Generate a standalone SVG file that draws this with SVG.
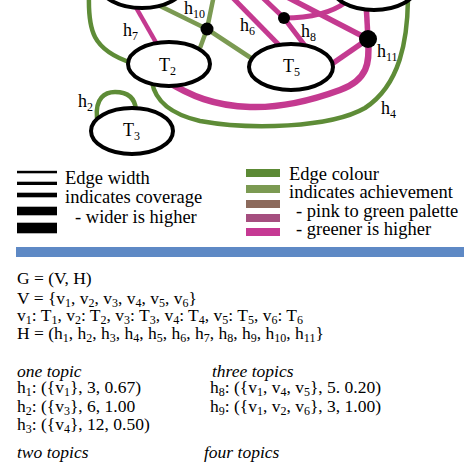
<svg xmlns="http://www.w3.org/2000/svg" width="474" height="474" viewBox="0 0 474 474" font-family="Liberation Serif, Times New Roman, serif">
<style>
text{font-family:"Liberation Serif","Times New Roman",serif;fill:#000}
.lb{font-size:18px}
.lg{font-size:18.5px}
.tx{font-size:17.5px}
.it{font-style:italic}
.s{font-size:12px}
.node{fill:#fff;stroke:#000;stroke-width:4}
.e{fill:none;stroke-linecap:butt;stroke-linejoin:round}
.g1{stroke:#5e8c37}
.g2{stroke:#7b9a52}
.pk{stroke:#c43a90}
.dot{fill:#000}
</style>
<rect width="474" height="474" fill="#fff"/>
<g id="connectors">
  <path class="e g1" stroke-width="4.5" d="M89,-5 C88,30 92,50 132,63"/>
  <path class="e pk" stroke-width="4.5" d="M134,4 L158,46"/>
  <path class="e g2" stroke-width="4.5" d="M158,5 L207,29 L254,60"/>
  <path class="e g2" stroke-width="4.5" d="M214,-5 L207,29 L200,48"/>
  <path class="e pk" stroke-width="5" d="M232,-3 L281,47"/>
  <path class="e pk" stroke-width="5" d="M262,-3 L284,18 L306,47"/>
  <path class="e pk" stroke-width="5" d="M284,18 C300,18 326,17 346,2"/>
  <path class="e pk" stroke-width="5.5" d="M287,-3 L368,39"/>
  <path class="e pk" stroke-width="5.5" d="M368,39 L366,2"/>
  <path class="e pk" stroke-width="5.5" d="M368,39 L326,68"/>
  <path class="e pk" stroke-width="6.5" d="M368,40 C370,62 368,80 340,90 C310,101 280,108 250,107 C215,106 190,96 165,80"/>
  <path class="e g1" stroke-width="4.5" d="M408,-5 C408,40 400,85 365,108 C330,128 250,130 200,121 C170,114 155,100 152,82"/>
  <path class="e g1" stroke-width="4.5" d="M97,118 C95,98 105,92 115,92 C128,92 135,98 136,110"/>
  <circle class="dot" cx="207" cy="29" r="6.5"/>
  <circle class="dot" cx="284" cy="18" r="6"/>
  <circle class="dot" cx="368" cy="39" r="9"/>
  <text class="lb" x="184" y="14">h<tspan class="s" dy="4">10</tspan></text>
  <text class="lb" x="123" y="36">h<tspan class="s" dy="4">7</tspan></text>
  <text class="lb" x="240" y="31">h<tspan class="s" dy="4">6</tspan></text>
  <text class="lb" x="301" y="37">h<tspan class="s" dy="4">8</tspan></text>
  <text class="lb" x="377" y="57">h<tspan class="s" dy="4">11</tspan></text>
  <text class="lb" x="381" y="114">h<tspan class="s" dy="4">4</tspan></text>
  <text class="lb" x="78" y="107">h<tspan class="s" dy="4">2</tspan></text>
</g>
<g id="T1"><ellipse class="node" cx="142" cy="-15" rx="42" ry="23"/></g>
<g id="T4"><ellipse class="node" cx="374" cy="-13" rx="42" ry="23"/></g>
<g id="T2"><ellipse class="node" cx="169" cy="64" rx="41" ry="22"/><text class="lb" x="159" y="71">T<tspan class="s" dy="4">2</tspan></text></g>
<g id="T3"><ellipse class="node" cx="132" cy="131" rx="41" ry="23"/><text class="lb" x="123" y="136">T<tspan class="s" dy="4">3</tspan></text></g>
<g id="T5"><ellipse class="node" cx="291" cy="67" rx="42" ry="23"/><text class="lb" x="283" y="72">T<tspan class="s" dy="4">5</tspan></text></g>
<g id="legend">
  <rect x="17" y="170.8" width="40" height="2.5"/>
  <rect x="17" y="181.7" width="40" height="3.3"/>
  <rect x="17" y="192.7" width="40" height="4.6"/>
  <rect x="17" y="206.7" width="40" height="8.6"/>
  <rect x="17" y="222.7" width="40" height="10.6"/>
  <text class="lg" x="65" y="184">Edge width</text>
  <text class="lg" x="65" y="203">indicates coverage</text>
  <text class="lg" x="75" y="223">- wider is higher</text>
  <rect x="246" y="169" width="34" height="8" fill="#5c8a35"/>
  <rect x="246" y="185" width="34" height="8" fill="#7b9a52"/>
  <rect x="246" y="200" width="34" height="8" fill="#8c6a5c"/>
  <rect x="246" y="214" width="34" height="8" fill="#a54e7f"/>
  <rect x="246" y="228" width="34" height="8" fill="#c63993"/>
  <text class="lg" x="289" y="180">Edge colour</text>
  <text class="lg" x="289" y="198">indicates achievement</text>
  <text class="lg" x="296" y="217">- pink to green palette</text>
  <text class="lg" x="296" y="235">- greener is higher</text>
  <rect x="16" y="247" width="448" height="10" fill="#5e89c5"/>
</g>
<g id="definitions">
  <text class="tx" x="17" y="284">G = (V, H)</text>
  <text class="tx" x="17" y="304">V = {v<tspan class="s" dy="3">1</tspan><tspan dy="-3">, v</tspan><tspan class="s" dy="3">2</tspan><tspan dy="-3">, v</tspan><tspan class="s" dy="3">3</tspan><tspan dy="-3">, v</tspan><tspan class="s" dy="3">4</tspan><tspan dy="-3">, v</tspan><tspan class="s" dy="3">5</tspan><tspan dy="-3">, v</tspan><tspan class="s" dy="3">6</tspan><tspan dy="-3">}</tspan></text>
  <text class="tx" x="17" y="321">v<tspan class="s" dy="3">1</tspan><tspan dy="-3">: T</tspan><tspan class="s" dy="3">1</tspan><tspan dy="-3">, v</tspan><tspan class="s" dy="3">2</tspan><tspan dy="-3">: T</tspan><tspan class="s" dy="3">2</tspan><tspan dy="-3">, v</tspan><tspan class="s" dy="3">3</tspan><tspan dy="-3">: T</tspan><tspan class="s" dy="3">3</tspan><tspan dy="-3">, v</tspan><tspan class="s" dy="3">4</tspan><tspan dy="-3">: T</tspan><tspan class="s" dy="3">4</tspan><tspan dy="-3">, v</tspan><tspan class="s" dy="3">5</tspan><tspan dy="-3">: T</tspan><tspan class="s" dy="3">5</tspan><tspan dy="-3">, v</tspan><tspan class="s" dy="3">6</tspan><tspan dy="-3">: T</tspan><tspan class="s" dy="3">6</tspan></text>
  <text class="tx" x="17" y="339">H = (h<tspan class="s" dy="3">1</tspan><tspan dy="-3">, h</tspan><tspan class="s" dy="3">2</tspan><tspan dy="-3">, h</tspan><tspan class="s" dy="3">3</tspan><tspan dy="-3">, h</tspan><tspan class="s" dy="3">4</tspan><tspan dy="-3">, h</tspan><tspan class="s" dy="3">5</tspan><tspan dy="-3">, h</tspan><tspan class="s" dy="3">6</tspan><tspan dy="-3">, h</tspan><tspan class="s" dy="3">7</tspan><tspan dy="-3">, h</tspan><tspan class="s" dy="3">8</tspan><tspan dy="-3">, h</tspan><tspan class="s" dy="3">9</tspan><tspan dy="-3">, h</tspan><tspan class="s" dy="3">10</tspan><tspan dy="-3">, h</tspan><tspan class="s" dy="3">11</tspan><tspan dy="-3">}</tspan></text>
  <text class="tx it" x="17" y="377">one topic</text>
  <text class="tx" x="17" y="393">h<tspan class="s" dy="3">1</tspan><tspan dy="-3">: ({v</tspan><tspan class="s" dy="3">1</tspan><tspan dy="-3">}, 3, 0.67)</tspan></text>
  <text class="tx" x="17" y="412">h<tspan class="s" dy="3">2</tspan><tspan dy="-3">: ({v</tspan><tspan class="s" dy="3">3</tspan><tspan dy="-3">}, 6, 1.00</tspan></text>
  <text class="tx" x="17" y="430">h<tspan class="s" dy="3">3</tspan><tspan dy="-3">: ({v</tspan><tspan class="s" dy="3">4</tspan><tspan dy="-3">}, 12, 0.50)</tspan></text>
  <text class="tx it" x="17" y="458">two topics</text>
  <text class="tx it" x="212" y="377">three topics</text>
  <text class="tx" x="210" y="393">h<tspan class="s" dy="3">8</tspan><tspan dy="-3">: ({v</tspan><tspan class="s" dy="3">1</tspan><tspan dy="-3">, v</tspan><tspan class="s" dy="3">4</tspan><tspan dy="-3">, v</tspan><tspan class="s" dy="3">5</tspan><tspan dy="-3">}, 5. 0.20)</tspan></text>
  <text class="tx" x="210" y="412">h<tspan class="s" dy="3">9</tspan><tspan dy="-3">: ({v</tspan><tspan class="s" dy="3">1</tspan><tspan dy="-3">, v</tspan><tspan class="s" dy="3">2</tspan><tspan dy="-3">, v</tspan><tspan class="s" dy="3">6</tspan><tspan dy="-3">}, 3, 1.00)</tspan></text>
  <text class="tx it" x="204" y="458">four topics</text>
</g>
</svg>
